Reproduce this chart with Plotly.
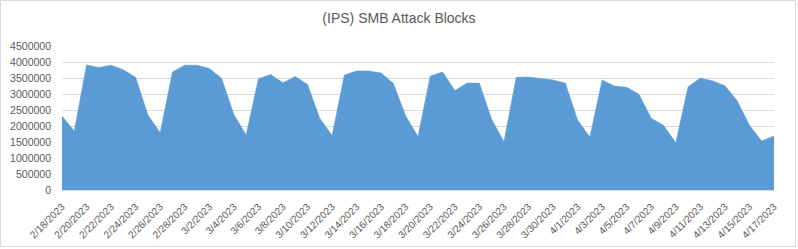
import datetime as dt
import plotly.graph_objects as go

start = dt.date(2023, 2, 18)
dates = [start + dt.timedelta(days=i) for i in range(59)]
categories = [f"{d.month}/{d.day}/{d.year}" for d in dates]

blocks = [
    2310000, 1840000, 3910000, 3830000, 3900000, 3760000, 3520000, 2340000, 1790000, 3690000,
    3900000, 3900000, 3800000, 3490000, 2360000, 1720000, 3480000, 3610000, 3350000, 3550000,
    3300000, 2240000, 1700000, 3590000, 3720000, 3720000, 3660000, 3330000, 2310000, 1670000,
    3560000, 3690000, 3110000, 3340000, 3340000, 2210000, 1510000, 3520000, 3530000, 3480000,
    3440000, 3340000, 2190000, 1660000, 3440000, 3250000, 3210000, 2990000, 2240000, 2020000,
    1480000, 3230000, 3500000, 3410000, 3260000, 2790000, 2020000, 1530000, 1690000,
]

title_text = "(IPS) SMB Attack Blocks"
y_ticks = [0, 500000, 1000000, 1500000, 2000000, 2500000, 3000000, 3500000, 4000000, 4500000]
x_ticks = categories[::2]

fig = go.Figure()
fig.add_trace(go.Scatter(
    x=categories, y=blocks, mode="lines", fill="tozeroy",
    fillcolor="#5B9BD5", line=dict(color="#5B9BD5", width=0.5),
    hoverinfo="x+y", showlegend=False,
))

W, H = 798, 249
ml, mr, mt, mb = 62, 24, 46, 59
pw, ph = W - ml - mr, H - mt - mb

fig.update_layout(
    width=W, height=H,
    margin=dict(l=ml, r=mr, t=mt, b=mb, pad=0),
    paper_bgcolor="white", plot_bgcolor="white",
    font=dict(family="Liberation Sans, Arial, sans-serif", color="#595959", size=11),
    title=dict(text=title_text, x=0.5, xanchor="center", y=1 - 18 / H, yanchor="middle",
               font=dict(size=14, color="#595959")),
    xaxis=dict(type="category", range=[0, len(categories) - 1], tickmode="array",
               tickvals=x_ticks, ticktext=x_ticks, tickangle=-45, showgrid=False,
               showline=True, linecolor="#D9D9D9", ticks="", zeroline=False,
               automargin=False, ticklabelstandoff=6,
               tickfont=dict(size=10, color="#595959")),
    yaxis=dict(range=[0, 4500000], tickmode="array", tickvals=y_ticks,
               ticktext=[str(v) for v in y_ticks], showgrid=True, gridcolor="#D9D9D9",
               gridwidth=1, zeroline=False, ticks="", ticklabelstandoff=10,
               automargin=False,
               tickfont=dict(size=10.5, color="#595959")),
    shapes=[dict(type="rect", xref="paper", yref="paper",
                 x0=(0.5 - ml) / pw, x1=(795.5 - ml) / pw,
                 y0=-(246.5 - (H - mb)) / ph, y1=(H - mb - 0.5) / ph,
                 line=dict(color="#D9D9D9", width=1), fillcolor="rgba(0,0,0,0)",
                 layer="above")],
)

fig.write_html("out.html")
